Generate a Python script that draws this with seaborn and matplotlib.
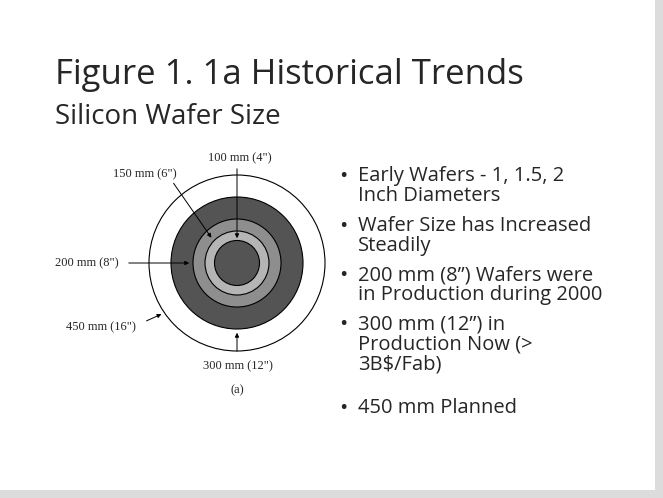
import matplotlib.pyplot as plt
import seaborn as sns
from matplotlib.patches import Circle, Rectangle

# wafer sizes, outermost first, drawn radii (px)
labels = ['450 mm (16")', '300 mm (12")', '200 mm (8")', '150 mm (6")', '100 mm (4")']
radii = [88, 66, 44, 32, 22.5]
fills = ['white', '#545454', '#8e8e8e', '#b5b5b5', '#545454']

# label text positions and arrow tips
label_xy = [(101, 327), (238, 366), (87, 263), (145, 174), (240, 158)]
arrow_from = [(144, 322), (237, 354), (126, 263), (172, 181), (237, 166)]
arrow_to = [(164, 313), (237, 330), (192, 263), (213, 240), (237, 241)]

bullets = [
    "Early Wafers - 1, 1.5, 2\nInch Diameters",
    "Wafer Size has Increased\nSteadily",
    "200 mm (8\u201d) Wafers were\nin Production during 2000",
    "300 mm (12\u201d) in\nProduction Now (>\n3B$/Fab)",
    "450 mm Planned",
]
bullet_y = [177, 227, 276, 325, 409]

sns.set_theme(style="white")
plt.rcParams['font.family'] = ['DejaVu Sans']

fig = plt.figure(figsize=(6.63, 4.98), dpi=100)
ax = fig.add_axes([0, 0, 1, 1])
ax.set_xlim(0, 663)
ax.set_ylim(498, 0)
ax.axis('off')

# slide frame
ax.add_patch(Rectangle((655, 0), 8, 498, color='#dcdcdc', lw=0))
ax.add_patch(Rectangle((0, 490), 663, 8, color='#dcdcdc', lw=0))

ax.text(55, 75, "Figure 1. 1a Historical Trends", fontsize=25, family='Open Sans', va='center')
ax.text(55, 117, "Silicon Wafer Size", fontsize=20, family='Open Sans', va='center')

cx, cy = 237, 263
for r, c in zip(radii, fills):
    ax.add_patch(Circle((cx, cy), r, facecolor=c, edgecolor='black', lw=0.8))

for lab, xy, a0, a1 in zip(labels, label_xy, arrow_from, arrow_to):
    ax.text(xy[0], xy[1], lab, fontsize=9, family='Liberation Serif', ha='center', va='center')
    ax.annotate('', xy=a1, xytext=a0,
                arrowprops=dict(arrowstyle='-|>', color='black', lw=0.7, mutation_scale=6))
ax.text(237, 390, "(a)", fontsize=9, family='Liberation Serif', ha='center', va='center')

for txt, y in zip(bullets, bullet_y):
    ax.text(343, y - 1, "\u2022", fontsize=16, family='Open Sans', va='center', ha='center')
    ax.text(358, y - 11, txt, fontsize=14.5, family='Open Sans', va='top', linespacing=1.0)

fig.savefig("out.png", dpi=100)
